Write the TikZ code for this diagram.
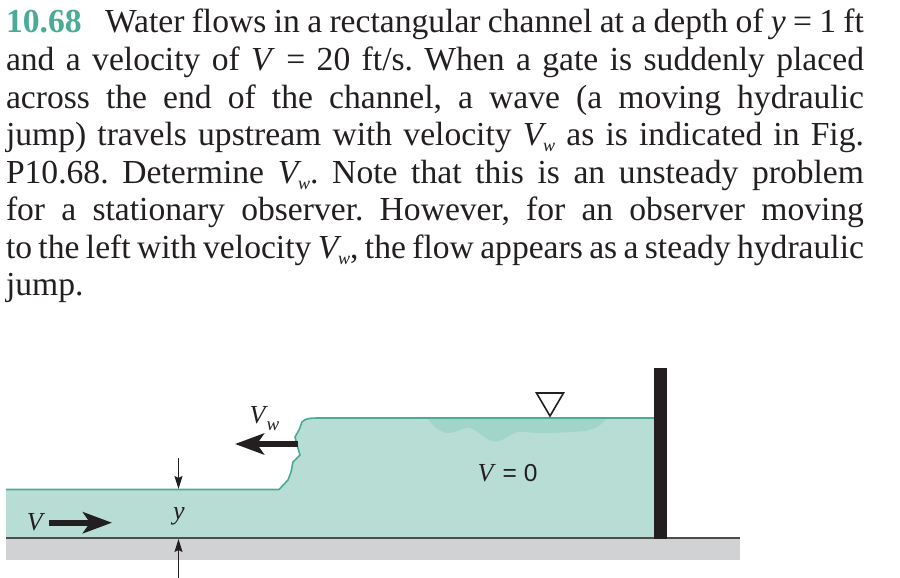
\documentclass[tikz,border=0pt]{standalone}
\usepackage{fontspec}
\setmainfont{Liberation Serif}
\newfontfamily\labsans{Liberation Sans}
\usetikzlibrary{arrows.meta}
\definecolor{inkc}{HTML}{231F20}
\definecolor{waterc}{HTML}{B7DDD5}
\definecolor{linec}{HTML}{4AAB96}
\definecolor{groundc}{HTML}{D1D2D4}
\definecolor{ripplec}{HTML}{A1D5C9}
\newcommand{\subw}{\kern-0.1em\raisebox{-0.2em}{\fontsize{18}{18}\selectfont\textit{w}}}
\newcommand{\parline}[1]{\hbox to 858pt{\frenchspacing #1}}
\tikzset{
  txt/.style={anchor=base west,inner sep=0pt,outer sep=0pt,text=inkc,font=\fontsize{33.6}{37}\selectfont},
  lab/.style={inner sep=0pt,outer sep=0pt,text=inkc,font=\fontsize{26}{26}\selectfont},
  fatarrow/.style={draw=inkc,line width=6pt,-{Stealth[length=29pt,width=21pt,inset=7pt,fill=inkc]}},
  thinarrow/.style={draw=inkc,line width=1.1pt,-{Stealth[length=13pt,width=8pt,inset=2pt,fill=inkc]}},
}
\begin{document}
\begin{tikzpicture}[x=1pt,y=-1pt]
\useasboundingbox (0,0) rectangle (900,578);
\fill[white] (0,0) rectangle (900,578);
% text
\node[txt] (l1) at (6,33) {\parline{\textcolor{linec}{\textbf{10.68}}\kern 0.7em Water flows in a rectangular channel at a depth of \textit{y} = 1 ft}};
\node[txt] (l2) at (6,70.5) {\parline{and a velocity of \textit{V} = 20 ft/s. When a gate is suddenly placed}};
\node[txt] (l3) at (6,108) {\parline{across the end of the channel, a wave (a moving hydraulic}};
\node[txt] (l4) at (6,145) {\parline{jump) travels upstream with velocity \textit{V}\subw{} as is indicated in Fig.}};
\node[txt] (l5) at (6,183) {\parline{P10.68. Determine \textit{V}\subw. Note that this is an unsteady problem}};
\node[txt] (l6) at (6,220.5) {\parline{for a stationary observer. However, for an observer moving}};
\node[txt] (l7) at (6,258) {\parline{to the left with velocity \textit{V}\subw, the flow appears as a steady hydraulic}};
\node[txt] (l8) at (6,295.5) {jump.};
% ground and water
\fill[groundc] (6,538) rectangle (740,560);
\fill[waterc] (6,489.5) -- (279,489.5) -- (288,480) -- (291,472) -- (293,462) -- (300,455) -- (297,445) -- (295,437) -- (299,430) -- (302,422) .. controls (305,418.5) and (310,418) .. (317,418) -- (654,418) -- (654,538) -- (6,538) -- cycle;
\fill[ripplec] (428,419) .. controls (435,428) and (440,432) .. (447,433) .. controls (458,433) and (462,427) .. (470,428) .. controls (480,431) and (485,441) .. (495,441.5) .. controls (505,441) and (510,433) .. (520,431.5) .. controls (540,434) and (560,433) .. (585,431) .. controls (595,429) and (602,425) .. (606,419) -- cycle;
\draw[linec,line width=1.6pt] (6,489.5) -- (279,489.5) -- (288,480) -- (291,472) -- (293,462) -- (300,455) -- (297,445) -- (295,437) -- (299,430) -- (302,422) .. controls (305,418.5) and (310,418) .. (317,418) -- (654,418);
\draw[inkc!80,line width=1.3pt] (6,538) -- (740,538);
% gate
\fill[inkc] (654,368) rectangle (667,539);
% free-surface mark
\draw[inkc,line width=1.6pt,line join=miter] (536.5,393) -- (563.5,393) -- (550,416) -- cycle;
% velocity arrows
\coordinate (vws) at (298,444);
\coordinate (vwe) at (235,444);
\draw[fatarrow] (vws) -- (vwe);
\coordinate (vs) at (49,522.7);
\coordinate (ve) at (112,522.7);
\draw[fatarrow] (vs) -- (ve);
% y dimension
\coordinate (yta) at (178.5,458);
\coordinate (ytb) at (178.5,489);
\coordinate (yba) at (178.5,578);
\coordinate (ybb) at (178.5,539);
\draw[thinarrow] (yta) -- (ytb);
\draw[thinarrow] (yba) -- (ybb);
% labels
\node[lab] (lv) at (36,522) {\textit{V}};
\node[lab] (ly) at (179,516) {\textit{y}};
\node[lab,anchor=base west] (lvw) at (249.5,423) {\textit{V}\kern-0.05em\raisebox{-0.28em}{\fontsize{19}{19}\selectfont\textit{w}}};
\node[lab,anchor=base] (lv0) at (507.5,481) {\textit{V}{\labsans\fontsize{24.5}{24.5}\selectfont\ =\ 0}};
\end{tikzpicture}
\end{document}
